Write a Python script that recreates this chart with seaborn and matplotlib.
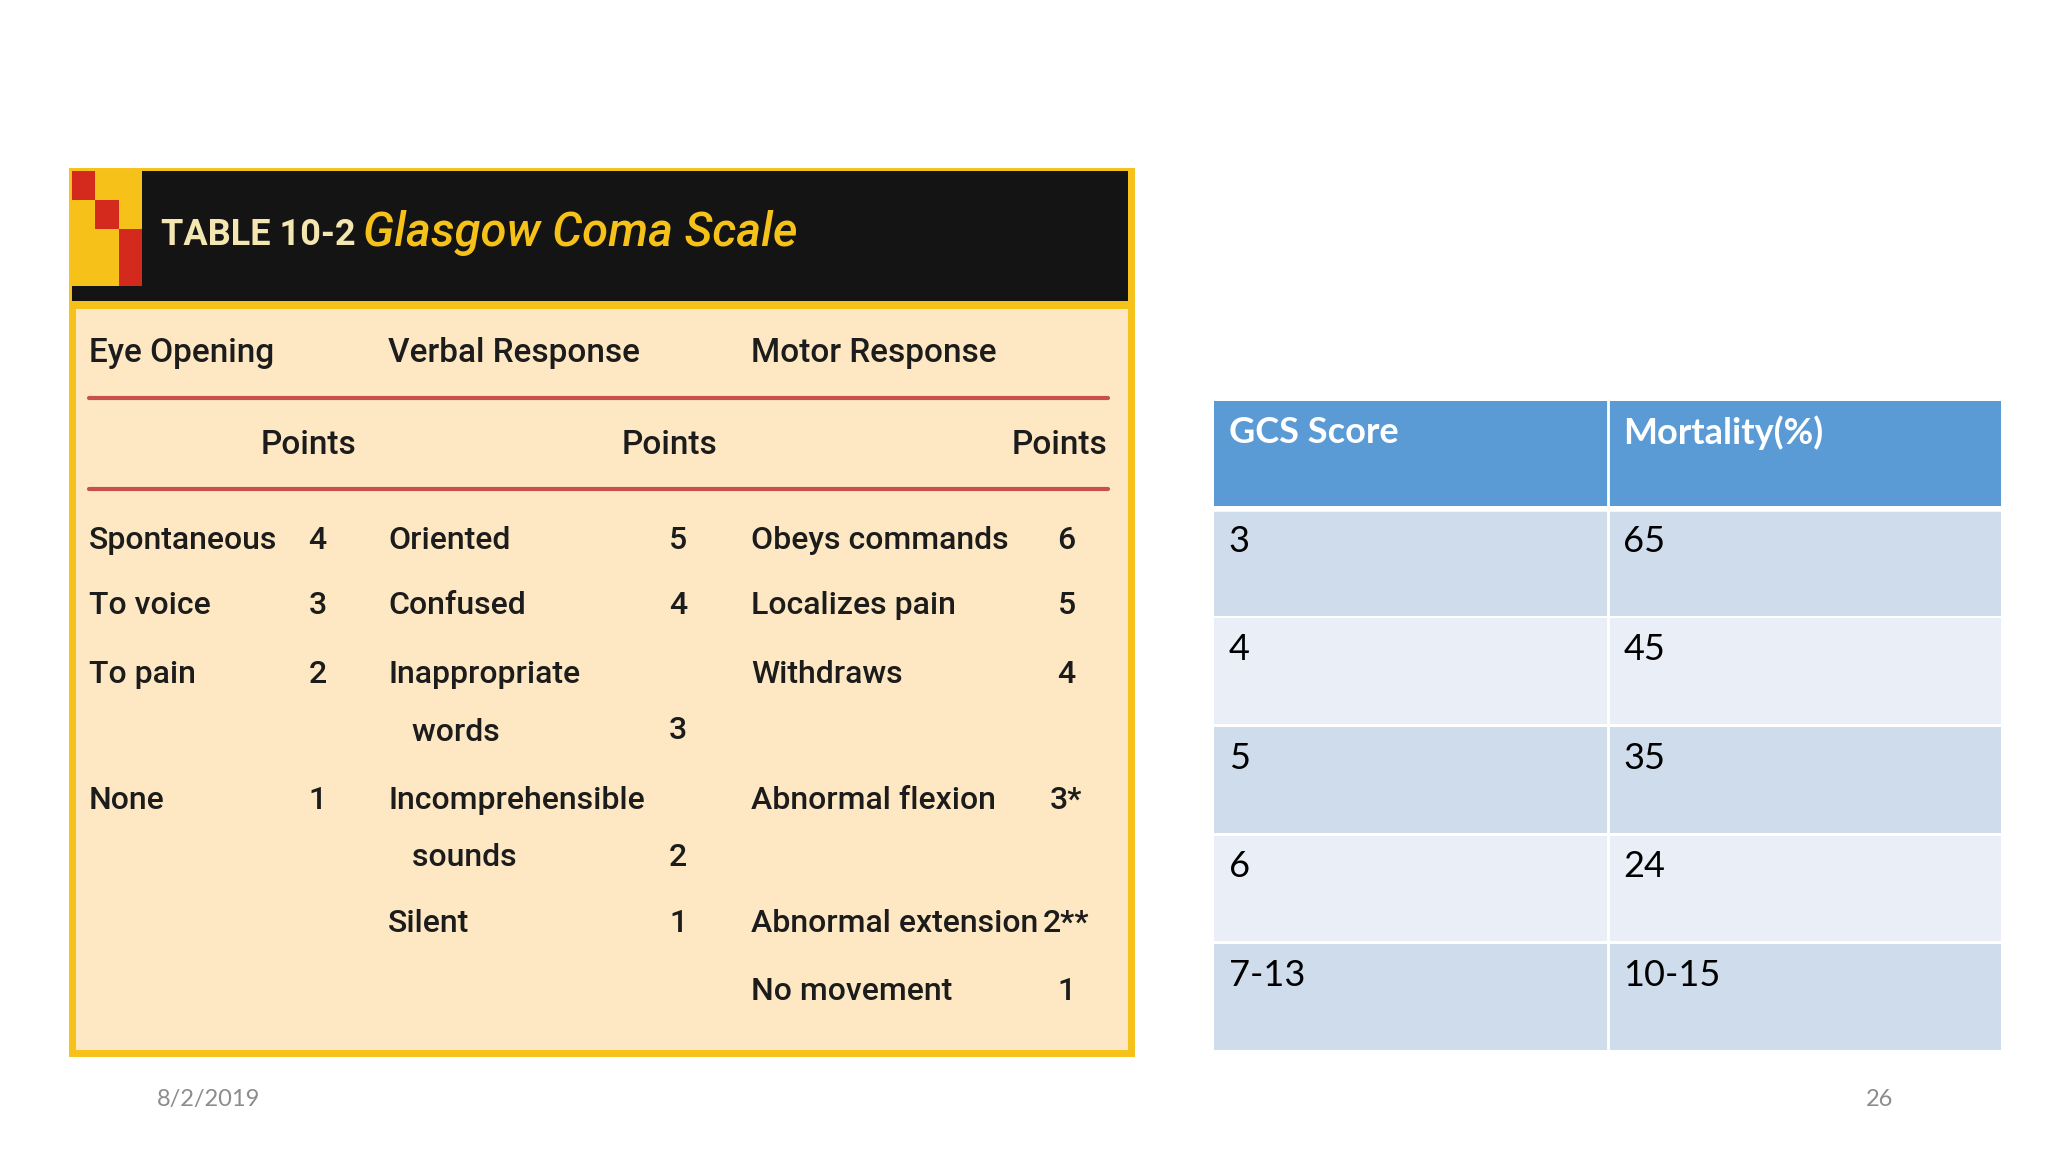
import matplotlib
matplotlib.use("Agg")
import matplotlib.pyplot as plt
import seaborn as sns
from matplotlib.patches import Rectangle

sns.set_theme(style="white")
plt.rcParams['font.family'] = ['Roboto', 'DejaVu Sans']

# ---- data ----
gcs_header = ["GCS Score", "Mortality(%)"]
gcs_scores = ["3", "4", "5", "6", "7-13"]
mortality = ["65", "45", "35", "24", "10-15"]

col_heads = ["Eye Opening", "Verbal Response", "Motor Response"]
eye_items = [("Spontaneous", "4", 413), ("To voice", "3", 463), ("To pain", "2", 516), ("None", "1", 612)]
verbal_items = [("Oriented", "5", 413, 413), ("Confused", "4", 463, 463),
                ("Inappropriate\n   words", "3", 516, 559),
                ("Incomprehensible\n   sounds", "2", 612, 656), ("Silent", "1", 706, 706)]
motor_items = [("Obeys commands", "6", 413), ("Localizes pain", "5", 463), ("Withdraws", "4", 516),
               ("Abnormal flexion", "3*", 612), ("Abnormal extension", "2**", 706), ("No movement", "1", 758)]
date_text = "8/2/2019"
page_text = "26"

W, H = 1567, 881
fig = plt.figure(figsize=(20.48, 11.52), dpi=100)
ax = fig.add_axes([0, 0, 1, 1])
ax.set_xlim(0, W); ax.set_ylim(H, 0); ax.axis("off")

# ---- left picture ----
ax.add_patch(Rectangle((55, 131), 810, 674, fc="#fde8c3", ec="#f6c21a", lw=5))
ax.add_patch(Rectangle((55, 131), 808, 99, fc="#141414", ec="none"))
ax.add_patch(Rectangle((55, 230), 808, 6, fc="#f6c21a", ec="none"))
cells = [(55, 131, "#d42a1e"), (73, 131, "#f6c21a"), (91, 131, "#f6c21a"),
         (55, 153, "#f6c21a"), (73, 153, "#d42a1e"), (91, 153, "#f6c21a"),
         (55, 175, "#f6c21a"), (73, 175, "#f6c21a"), (91, 175, "#d42a1e"),
         (55, 197, "#f6c21a"), (73, 197, "#f6c21a"), (91, 197, "#d42a1e")]
for (x, y, c) in cells:
    ax.add_patch(Rectangle((x, y), 18, 22, fc=c, ec="none"))
ax.text(123, 180, "TABLE 10-2", color="#f3e6b0", fontsize=26, fontweight="bold", va="center")
ax.text(278, 178, "Glasgow Coma Scale", color="#f6c21a", fontsize=34, style="italic",
        fontweight="medium", va="center")

fs = 23
tc = "#1c1c1c"
fw = "medium"
for x, t in zip([68, 297, 575], col_heads):
    ax.text(x, 270, t, fontsize=fs + 1, color=tc, va="center", fontweight=fw)
for y in [304, 374]:
    ax.plot([68, 848], [y, y], color="#c8504a", lw=3)
for x in [273, 549, 847]:
    ax.text(x, 340, "Points", fontsize=fs + 1, color=tc, va="center", ha="right", fontweight=fw)
for t, p, y in eye_items:
    ax.text(68, y, t, fontsize=fs, color=tc, va="center", fontweight=fw)
    ax.text(243, y, p, fontsize=fs, color=tc, va="center", ha="center", fontweight=fw)
for t, p, y, py in verbal_items:
    for i, ln in enumerate(t.split("\n")):
        ax.text(297, y + i * 44, ln, fontsize=fs, color=tc, va="center", fontweight=fw)
    ax.text(519, py, p, fontsize=fs, color=tc, va="center", ha="center", fontweight=fw)
for t, p, y in motor_items:
    ax.text(575, y, t, fontsize=fs, color=tc, va="center", fontweight=fw)
    ax.text(816, y, p, fontsize=fs, color=tc, va="center", ha="center", fontweight=fw)

# ---- right table ----
tf = ['Lato', 'DejaVu Sans']
x0, xm, x1 = 929, 1230, 1531
ax.add_patch(Rectangle((x0, 307), x1 - x0, 80, fc="#5b9bd5", ec="none"))
ax.text(x0 + 11, 331, gcs_header[0], fontsize=26, color="white", fontweight="bold", va="center", family=tf)
ax.text(xm + 12, 331, gcs_header[1], fontsize=26, color="white", fontweight="bold", va="center", family=tf)
row_h = 83
for i, (s, m) in enumerate(zip(gcs_scores, mortality)):
    y = 390 + i * row_h
    fc = "#cfdcec" if i % 2 == 0 else "#e9eef7"
    ax.add_patch(Rectangle((x0, y), x1 - x0, row_h - 2, fc=fc, ec="none"))
    ax.text(x0 + 11, y + 24, s, fontsize=26, color="black", va="center", family=tf)
    ax.text(xm + 12, y + 24, m, fontsize=26, color="black", va="center", family=tf)
ax.plot([xm, xm], [307, 805], color="white", lw=2)
ax.plot([x0, x1], [389, 389], color="white", lw=4)

ax.text(120, 841, date_text, fontsize=17, color="#8c8c8c", va="center", family=tf)
ax.text(1438, 841, page_text, fontsize=17, color="#8c8c8c", va="center", ha="center", family=tf)

fig.savefig("out.png", dpi=100, facecolor="white")
